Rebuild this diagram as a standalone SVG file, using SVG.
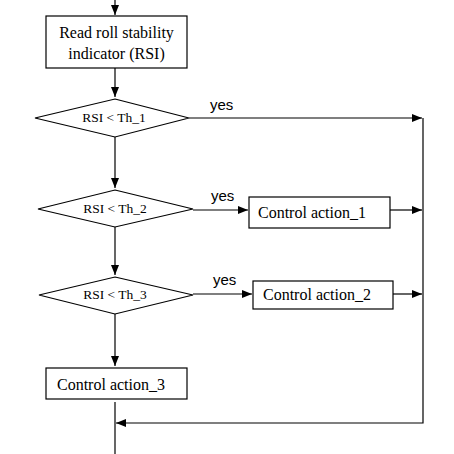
<svg xmlns="http://www.w3.org/2000/svg" width="454" height="454" viewBox="0 0 454 454">
<style>
.box{fill:#fff;stroke:#000;stroke-width:1.2}
.t{font-family:"Liberation Serif","Times New Roman",serif;font-size:16px;fill:#000}
.ts{font-family:"Liberation Serif","Times New Roman",serif;font-size:13.5px;fill:#000}
.y{font-family:"Liberation Sans",Arial,sans-serif;font-size:15px;fill:#000}
.c{fill:none;stroke:#000;stroke-width:1.2}
</style>
<defs>
<marker id="ah" markerUnits="userSpaceOnUse" markerWidth="10" markerHeight="10" viewBox="0 0 10 10" refX="10" refY="5" orient="auto">
<path d="M0,1 L10,5 L0,9 Z" fill="#000"/>
</marker>
</defs>
<rect width="454" height="454" fill="#fff"/>
<g id="connectors">
<line class="c" x1="115" y1="0" x2="115" y2="15" marker-end="url(#ah)"/>
<line class="c" x1="115" y1="68" x2="115" y2="97" marker-end="url(#ah)"/>
<line class="c" x1="115" y1="137" x2="115" y2="188" marker-end="url(#ah)"/>
<line class="c" x1="115" y1="227" x2="115" y2="275" marker-end="url(#ah)"/>
<line class="c" x1="115" y1="314" x2="115" y2="366" marker-end="url(#ah)"/>
<line class="c" x1="189" y1="118" x2="422" y2="118" marker-end="url(#ah)"/>
<line class="c" x1="193" y1="210" x2="248" y2="210" marker-end="url(#ah)"/>
<line class="c" x1="390" y1="210" x2="422" y2="210" marker-end="url(#ah)"/>
<line class="c" x1="193" y1="294" x2="252" y2="294" marker-end="url(#ah)"/>
<line class="c" x1="393" y1="294" x2="422" y2="294" stroke-width="2" marker-end="url(#ah)"/>
<polyline class="c" points="423,118 423,423 116,423" marker-end="url(#ah)"/>
<line class="c" x1="115" y1="402" x2="115" y2="454" stroke="#555"/>
<text class="y" x="210" y="110">yes</text>
<text class="y" x="211" y="201">yes</text>
<text class="y" x="213" y="285">yes</text>
</g>
<g id="read-rsi">
<rect class="box" x="46" y="16" width="141" height="52"/>
<text class="t" x="116.5" y="38" text-anchor="middle">Read roll stability</text>
<text class="t" x="116.5" y="59" text-anchor="middle">indicator (RSI)</text>
</g>
<g id="d1">
<polygon class="box" points="115,99 189,118 115,137 35,118"/>
<text class="ts" x="114" y="122" text-anchor="middle">RSI &lt; Th_1</text>
</g>
<g id="d2">
<polygon class="box" points="115,190 193,209 115,227 38,209"/>
<text class="ts" x="115" y="213" text-anchor="middle">RSI &lt; Th_2</text>
</g>
<g id="d3">
<polygon class="box" points="115,277 193,295 115,314 39,295"/>
<text class="ts" x="115" y="299" text-anchor="middle">RSI &lt; Th_3</text>
</g>
<g id="ca1">
<rect class="box" x="249" y="197" width="141" height="31"/>
<text class="t" x="258" y="218">Control action_1</text>
</g>
<g id="ca2">
<rect class="box" x="253" y="281" width="140" height="28"/>
<text class="t" x="263" y="300">Control action_2</text>
</g>
<g id="ca3">
<rect class="box" x="46" y="368" width="141" height="31"/>
<text class="t" x="57" y="390">Control action_3</text>
</g>
</svg>
